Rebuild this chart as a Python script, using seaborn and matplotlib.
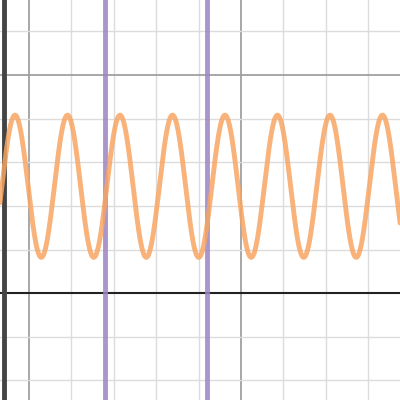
import numpy as np
import pandas as pd
import matplotlib
matplotlib.use("Agg")
import matplotlib.pyplot as plt
import seaborn as sns

# curve parameters (grid units)
amplitude = 1.63
center = 2.45
period = 1.238
peak_x = -0.33
purple_x = [1.80, 4.20]
left_axis_x = -0.59

xs = np.linspace(-0.7, 8.8, 2000)
df = pd.DataFrame({"x": xs, "y": center + amplitude * np.cos(2 * np.pi * (xs - peak_x) / period)})

sns.set_style("white")
fig = plt.figure(figsize=(4, 4), dpi=100)
ax = fig.add_axes([0, 0, 1, 1])
ax.set_xlim(-0.684, 8.75)
ax.set_ylim(-2.45, 6.72)

for gx in range(0, 9):
    major = gx % 5 == 0
    ax.axvline(gx, color="#a0a0a0" if major else "#dcdcdc", lw=1.3 if major else 1.0, zorder=0)
for gy in range(-2, 7):
    if gy == 0:
        ax.axhline(0, color="#222222", lw=1.5, zorder=1)
    else:
        major = gy % 5 == 0
        ax.axhline(gy, color="#a0a0a0" if major else "#dcdcdc", lw=1.3 if major else 1.0, zorder=0)
ax.axvline(left_axis_x, color="#444444", lw=3.5, zorder=2)
for px in purple_x:
    ax.axvline(px, color="#9b84c2", lw=3.5, alpha=0.85, zorder=2)

sns.lineplot(data=df, x="x", y="y", ax=ax, color="#f7a563", lw=3.5, alpha=0.85, zorder=3)
ax.set_xticks([]); ax.set_yticks([])
ax.set_xlabel(""); ax.set_ylabel("")
for s in ax.spines.values():
    s.set_visible(False)
fig.savefig("out.png", dpi=100)
